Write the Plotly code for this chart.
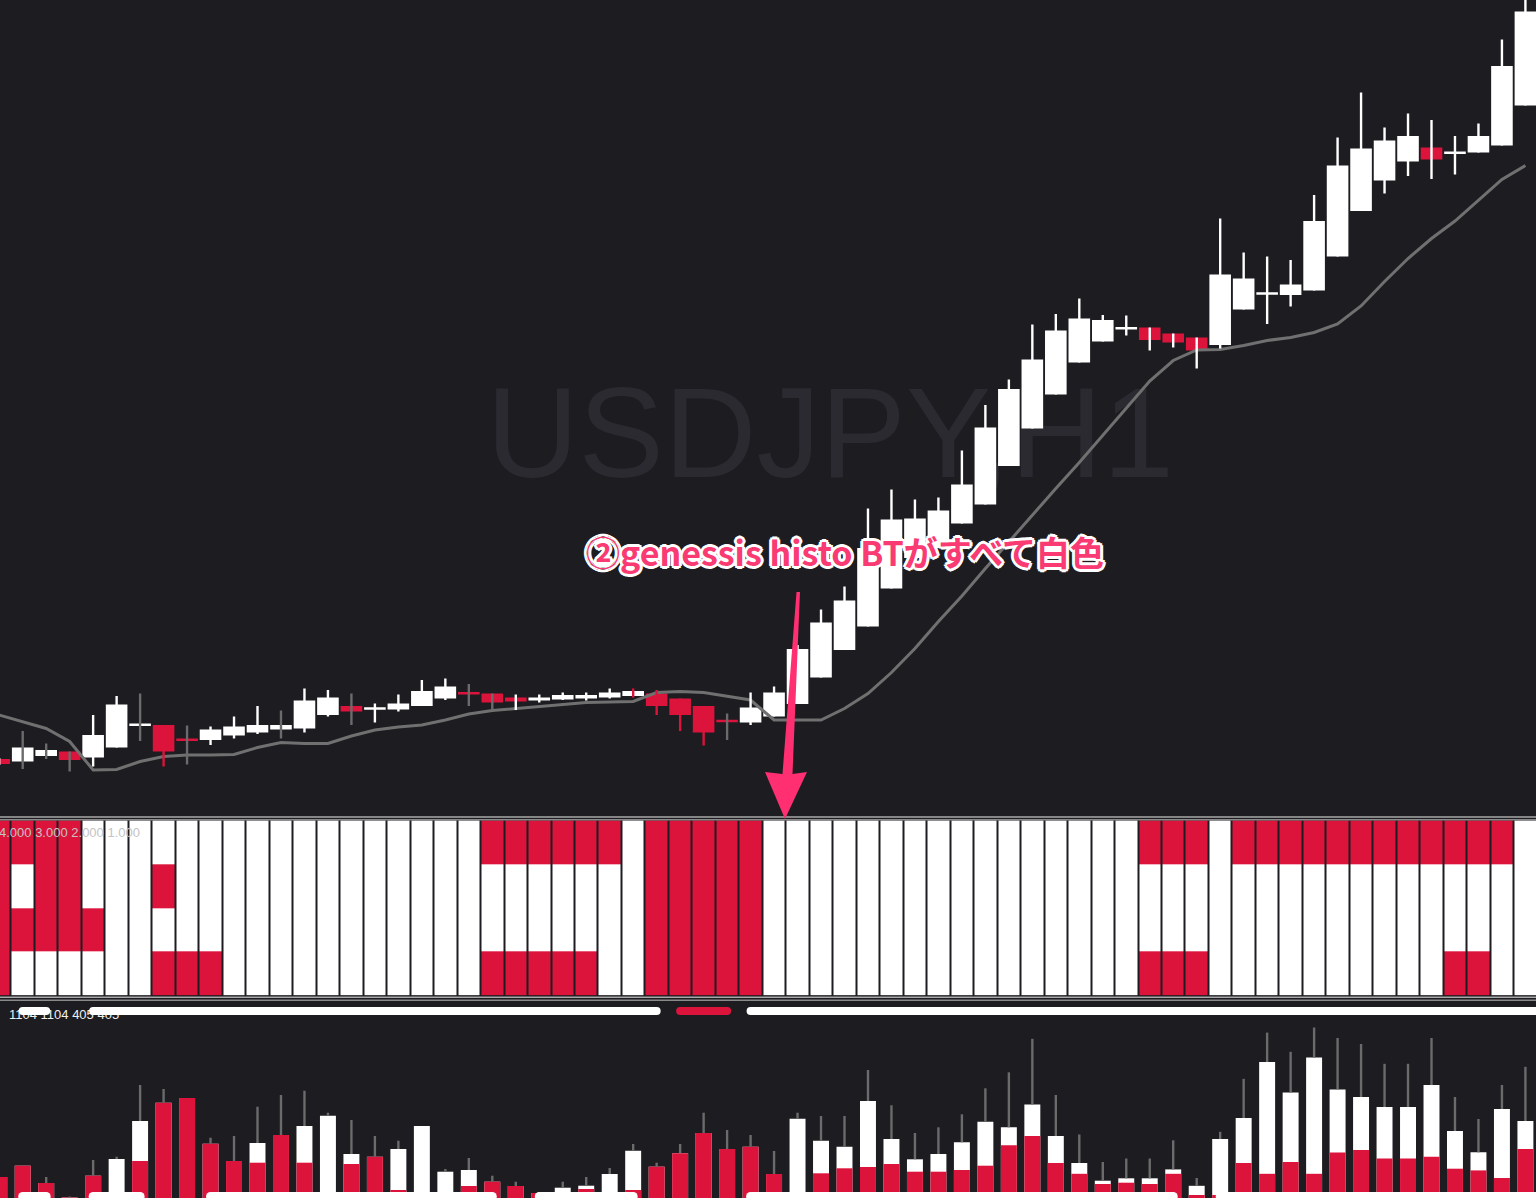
import plotly.graph_objects as go

W, H = 1536, 1198
BG = "#1c1c21"
RED = "#dc143c"
WHITE = "#ffffff"
GREY = "#6b6b6b"

# ---------------- data ----------------
idx = list(range(-1, 65))

open_ = [107.112, 107.107, 107.118, 107.127, 107.115, 107.135, 107.178, 107.180, 107.153, 107.150,
         107.159, 107.165, 107.171, 107.173, 107.200, 107.218, 107.211, 107.211, 107.218, 107.233,
         107.245, 107.243, 107.235, 107.229, 107.231, 107.233, 107.235, 107.238, 107.243, 107.233,
         107.218, 107.189, 107.185, 107.197, 107.222, 107.275, 107.330, 107.377, 107.453, 107.514,
         107.534, 107.583, 107.621, 107.698, 107.773, 107.841, 107.905, 107.947, 107.972, 107.975,
         107.963, 107.955, 107.940, 108.011, 108.041, 108.040, 108.049, 108.117, 108.208, 108.269,
         108.307, 108.335, 108.322, 108.325, 108.339, 108.419]
high = [107.114, 107.168, 107.143, 107.127, 107.200, 107.238, 107.243, 107.180, 107.179, 107.177,
        107.197, 107.218, 107.209, 107.253, 107.250, 107.243, 107.223, 107.241, 107.270, 107.273,
        107.262, 107.243, 107.241, 107.241, 107.245, 107.245, 107.253, 107.253, 107.250, 107.233,
        107.218, 107.203, 107.245, 107.257, 107.340, 107.411, 107.457, 107.613, 107.651, 107.631,
        107.635, 107.729, 107.820, 107.871, 107.981, 108.002, 108.033, 108.000, 107.999, 107.975,
        107.963, 107.955, 108.193, 108.125, 108.117, 108.110, 108.240, 108.355, 108.445, 108.375,
        108.403, 108.390, 108.358, 108.383, 108.551, 108.660]
low = [107.100, 107.092, 107.112, 107.087, 107.097, 107.135, 107.148, 107.097, 107.101, 107.140,
       107.153, 107.162, 107.153, 107.165, 107.197, 107.180, 107.185, 107.207, 107.218, 107.230,
       107.218, 107.210, 107.210, 107.225, 107.230, 107.229, 107.233, 107.235, 107.200, 107.168,
       107.139, 107.150, 107.180, 107.197, 107.222, 107.275, 107.330, 107.377, 107.453, 107.514,
       107.534, 107.583, 107.621, 107.698, 107.773, 107.841, 107.905, 107.947, 107.959, 107.929,
       107.935, 107.893, 107.933, 108.011, 107.982, 108.017, 108.049, 108.117, 108.208, 108.243,
       108.278, 108.272, 108.281, 108.325, 108.339, 108.419]
close = [107.102, 107.135, 107.130, 107.110, 107.160, 107.221, 107.183, 107.127, 107.148, 107.171,
         107.177, 107.180, 107.180, 107.229, 107.235, 107.207, 107.215, 107.223, 107.248, 107.257,
         107.242, 107.225, 107.227, 107.235, 107.240, 107.240, 107.245, 107.248, 107.218, 107.200,
         107.165, 107.187, 107.215, 107.245, 107.332, 107.385, 107.429, 107.534, 107.591, 107.593,
         107.609, 107.661, 107.775, 107.852, 107.911, 107.969, 107.993, 107.990, 107.975, 107.950,
         107.945, 107.929, 108.081, 108.073, 108.045, 108.061, 108.188, 108.299, 108.333, 108.349,
         108.358, 108.311, 108.327, 108.358, 108.498, 108.607]
# wick colour code per candle: w = white, g = grey, r = red
wick_code = list("wgggwwgrgwwwgwwgwwwwggwwwwwrrrrgwwwwwwwwwwwwwwwwwwwwwwwwwwwwwwwwww")

ma = [107.200, 107.187, 107.173, 107.147, 107.090, 107.091, 107.107, 107.117, 107.120, 107.120,
      107.121, 107.135, 107.145, 107.143, 107.143, 107.158, 107.170, 107.176, 107.180, 107.190,
      107.202, 107.209, 107.213, 107.218, 107.222, 107.225, 107.226, 107.227, 107.245, 107.247,
      107.245, 107.237, 107.230, 107.190, 107.190, 107.190, 107.213, 107.243, 107.285, 107.333,
      107.387, 107.438, 107.493, 107.547, 107.600, 107.653, 107.705, 107.760, 107.813, 107.868,
      107.909, 107.930, 107.931, 107.939, 107.949, 107.955, 107.965, 107.982, 108.018, 108.067,
      108.113, 108.153, 108.188, 108.230, 108.271, 108.299]

# genessis histo BT: 1 = red, 0 = white ; rows "1.000" (bottom) .. "4.000" (top)
bt_row1 = [1, 0, 0, 0, 0, 0, 0, 1, 1, 1,  0, 0, 0, 0, 0, 0, 0, 0, 0, 0,
           0, 1, 1, 1, 1, 1, 0, 0, 1, 1,  1, 1, 1, 0, 0, 0, 0, 0, 0, 0,
           0, 0, 0, 0, 0, 0, 0, 0, 0, 1,  1, 1, 0, 0, 0, 0, 0, 0, 0, 0,
           0, 0, 1, 1, 0, 0]
bt_row2 = [1, 1, 1, 1, 1, 0, 0, 0, 0, 0,  0, 0, 0, 0, 0, 0, 0, 0, 0, 0,
           0, 0, 0, 0, 0, 0, 0, 0, 1, 1,  1, 1, 1, 0, 0, 0, 0, 0, 0, 0,
           0, 0, 0, 0, 0, 0, 0, 0, 0, 0,  0, 0, 0, 0, 0, 0, 0, 0, 0, 0,
           0, 0, 0, 0, 0, 0]
bt_row3 = [1, 0, 1, 1, 0, 0, 0, 1, 0, 0,  0, 0, 0, 0, 0, 0, 0, 0, 0, 0,
           0, 0, 0, 0, 0, 0, 0, 0, 1, 1,  1, 1, 1, 0, 0, 0, 0, 0, 0, 0,
           0, 0, 0, 0, 0, 0, 0, 0, 0, 0,  0, 0, 0, 0, 0, 0, 0, 0, 0, 0,
           0, 0, 0, 0, 0, 0]
bt_row4 = [1, 1, 1, 1, 0, 0, 0, 0, 0, 0,  0, 0, 0, 0, 0, 0, 0, 0, 0, 0,
           0, 1, 1, 1, 1, 1, 1, 0, 1, 1,  1, 1, 1, 0, 0, 0, 0, 0, 0, 0,
           0, 0, 0, 0, 0, 0, 0, 0, 0, 1,  1, 1, 0, 1, 1, 1, 1, 1, 1, 1,
           1, 1, 1, 1, 1, 0]
bt_levels = [1, 2, 3, 4]
bt_labels = "4.000 3.000 2.000 1.000"

# trend strip segments: (from bar, to bar, colour)
strip_segments = [(0, 1, "w"), (3, 27, "w"), (28, 30, "r"), (31, 65, "w")]
strip_text = "1104 1104 405 405"

# lower histogram
hist_total = [33, 44.3, 27, 12.5, 34.3, 51, 89, 107.3, 112, 66.3,
              49, 67, 75, 84, 94.3, 56, 53.3, 61, 84, 38.3,
              40, 28.3, 24, 17, 22.3, 24.3, 36, 59.3, 43.3, 56.7,
              77, 61, 63.3, 36, 91.3, 69.3, 63.3, 109, 71, 50.7,
              56, 67.7, 88.3, 82.7, 105.6, 74, 47, 29.3, 31.7, 31.7,
              40.6, 24.2, 71, 92, 148, 117.5, 152.4, 120.6, 113, 103,
              103, 125, 79, 57.7, 101, 89]
hist_red = [33, 44.3, 27, 12.5, 34.3, 10, 49, 107.3, 112, 66.3,
            49, 47.3, 75, 47.3, 10, 46, 53.3, 20, 10, 10,
            24, 28.3, 24, 17, 10, 21, 18, 20, 43.3, 56.7,
            77, 61, 63.3, 36, 18, 36.7, 41.7, 43, 46, 38.3,
            38.3, 40, 44.3, 64.7, 74, 47, 36.2, 26, 27.3, 26,
            36.2, 15, 15, 47, 36.2, 48, 36.2, 57.4, 60, 51.5,
            51.5, 53.2, 41.3, 39.6, 32, 61]
hist_peak = [33, 44.3, 33, 13.5, 50, 53.3, 125, 121, 112, 72.3,
             74, 103.3, 115, 119.3, 97.3, 90, 74, 69.3, 84, 41,
             52, 34.3, 28.3, 18, 28.3, 33, 42, 66, 47.3, 66,
             97.3, 80, 75, 59, 97.3, 94, 94, 140, 104.7, 77,
             82.7, 95.7, 121.7, 137.7, 171.2, 115, 75.5, 48, 51.5, 51.5,
             69.7, 32, 78.2, 131.2, 177.4, 158.2, 182.5, 172, 166, 146.2,
             146.2, 172, 113, 91, 125, 143.2]
hist_segments = [(0, 1), (3, 5), (8, 20), (22, 26), (31, 49), (51, 65)]
hist_seg_level = 13.5

annotation_text = "②genessis histo BTがすべて白色"
watermark = "USDJPY,H1"

# ---------------- figure ----------------
fig = go.Figure()
cmap = {"w": WHITE, "g": GREY, "r": RED}

# candle bodies
body_base, body_h, body_col = [], [], []
for o, c in zip(open_, close):
    lo, hi = min(o, c), max(o, c)
    h = hi - lo
    if h < 0.005:
        mid = (lo + hi) / 2
        lo, h = mid - 0.0025, 0.005
    body_base.append(lo)
    body_h.append(h)
    body_col.append(WHITE if c >= o else RED)
fig.add_trace(go.Bar(x=idx, y=body_h, base=body_base, width=0.92,
                     marker=dict(color=body_col, line=dict(width=0)),
                     xaxis="x", yaxis="y", hoverinfo="skip"))

# moving average
fig.add_trace(go.Scatter(x=idx, y=ma, mode="lines",
                         line=dict(color="#707070", width=3),
                         xaxis="x", yaxis="y", hoverinfo="skip"))

# wicks
for code, col in cmap.items():
    xs, ys = [], []
    for k, lo, hi, wc in zip(idx, low, high, wick_code):
        if wc == code:
            xs += [k, k, None]
            ys += [lo, hi, None]
    fig.add_trace(go.Scatter(x=xs, y=ys, mode="lines",
                             line=dict(color=col, width=2.4),
                             xaxis="x", yaxis="y", hoverinfo="skip"))

# heatmap panel
fig.add_trace(go.Heatmap(z=[bt_row1, bt_row2, bt_row3, bt_row4], x=idx, y=bt_levels,
                         colorscale=[[0, WHITE], [1, RED]], zmin=0, zmax=1,
                         showscale=False, xgap=2, ygap=0,
                         xaxis="x2", yaxis="y2", hoverinfo="skip"))

# strip segments
for a, b, c in strip_segments:
    fig.add_trace(go.Scatter(x=[a, b], y=[0, 0], mode="lines+markers",
                             line=dict(color=cmap[c], width=8),
                             marker=dict(color=cmap[c], size=8),
                             xaxis="x3", yaxis="y3", hoverinfo="skip"))

# histogram
fig.add_trace(go.Bar(x=idx, y=hist_total, width=0.68,
                     marker=dict(color=WHITE, line=dict(width=0)),
                     xaxis="x4", yaxis="y4", hoverinfo="skip"))
fig.add_trace(go.Bar(x=idx, y=hist_red, width=0.68,
                     marker=dict(color=RED, line=dict(width=0)),
                     xaxis="x4", yaxis="y4", hoverinfo="skip"))
xs, ys = [], []
for k, t, p in zip(idx, hist_total, hist_peak):
    if p > t:
        xs += [k, k, None]
        ys += [t, p, None]
fig.add_trace(go.Scatter(x=xs, y=ys, mode="lines", line=dict(color=GREY, width=2.4),
                         xaxis="x4", yaxis="y4", hoverinfo="skip"))
for a, b in hist_segments:
    fig.add_trace(go.Scatter(x=[a, b], y=[hist_seg_level, hist_seg_level], mode="lines+markers",
                             line=dict(color=WHITE, width=9),
                             marker=dict(color=WHITE, size=9),
                             xaxis="x4", yaxis="y4", hoverinfo="skip"))


def px(x):
    return x / W


def py(y):
    return 1 - y / H


xr = [(0 - 22.7) / 23.48, (W - 22.7) / 23.48]
ax_common = dict(visible=False, showgrid=False, zeroline=False, fixedrange=True)

shapes = []
# panel separators
for yy, col in [(817, "#a8a8a8"), (819.8, "#8a8a8a"), (997.3, "#a8a8a8"), (1000.2, "#8a8a8a")]:
    shapes.append(dict(type="line", xref="paper", yref="paper", x0=0, x1=1,
                       y0=py(yy), y1=py(yy), line=dict(color=col, width=1.5), layer="above"))
# watermark (below the candles)
shapes.append(dict(type="rect", xref="paper", yref="paper",
                   x0=px(440), x1=px(1220), y0=py(475), y1=py(365),
                   line=dict(width=0), fillcolor="rgba(0,0,0,0)", layer="below",
                   label=dict(text=watermark, textposition="middle center",
                              font=dict(family="Liberation Sans", size=128, color="#2a2a30"))))
# strip text (below the strip segments)
shapes.append(dict(type="rect", xref="paper", yref="paper",
                   x0=px(4), x1=px(130), y0=py(1021), y1=py(1005),
                   line=dict(width=0), fillcolor="rgba(0,0,0,0)", layer="below",
                   label=dict(text=strip_text, textposition="middle left", padding=2,
                              font=dict(family="Liberation Sans", size=13, color="#f0f0f0"))))
# pink arrow
pts = [(796.5, 592), (800.0, 592), (792.5, 774), (807, 772), (785, 819), (765, 772), (782.5, 774)]
path = "M " + " L ".join(f"{px(x):.5f},{py(y):.5f}" for x, y in pts) + " Z"
shapes.append(dict(type="path", xref="paper", yref="paper", path=path,
                   fillcolor="#ff2f72", line=dict(width=0), layer="above"))

outline = ", ".join(f"{dx}px {dy}px 0 #ffffff" for dx, dy in
                    [(3, 0), (-3, 0), (0, 3), (0, -3), (2, 2), (-2, -2), (2, -2), (-2, 2)])
annotations = [
    dict(text=annotation_text, xref="paper", yref="paper", x=px(845), y=py(552),
         showarrow=False, xanchor="center", yanchor="middle",
         font=dict(family="Noto Sans CJK JP", size=34, color="#f93a73", weight="bold",
                   shadow=outline)),
    dict(text=bt_labels, xref="paper", yref="paper", x=px(-3), y=py(832),
         showarrow=False, xanchor="left", yanchor="middle",
         font=dict(family="Liberation Sans", size=13, color="#c4c4c4")),
]

fig.update_layout(
    width=W, height=H, margin=dict(l=0, r=0, t=0, b=0),
    paper_bgcolor=BG, plot_bgcolor=BG, showlegend=False, barmode="overlay",
    xaxis=dict(domain=[0, 1], range=xr, anchor="y", **ax_common),
    yaxis=dict(domain=[py(815), 1], range=[107.0, 108.63], anchor="x", **ax_common),
    xaxis2=dict(domain=[0, 1], range=xr, anchor="y2", **ax_common),
    yaxis2=dict(domain=[py(995.5), py(820.3)], range=[0.5, 4.5], anchor="x2", **ax_common),
    xaxis3=dict(domain=[0, 1], range=xr, anchor="y3", **ax_common),
    yaxis3=dict(domain=[py(1021), py(1001)], range=[-1, 1], anchor="x3", **ax_common),
    xaxis4=dict(domain=[0, 1], range=xr, anchor="y4", **ax_common),
    yaxis4=dict(domain=[0, py(1020)], range=[12, 190], anchor="x4", **ax_common),
    shapes=shapes, annotations=annotations,
)

fig.write_html("out.html", config={"displayModeBar": False},
               post_script="document.body.style.margin='0';document.body.style.overflow='hidden';"
                           "document.body.style.background='" + BG + "';")
